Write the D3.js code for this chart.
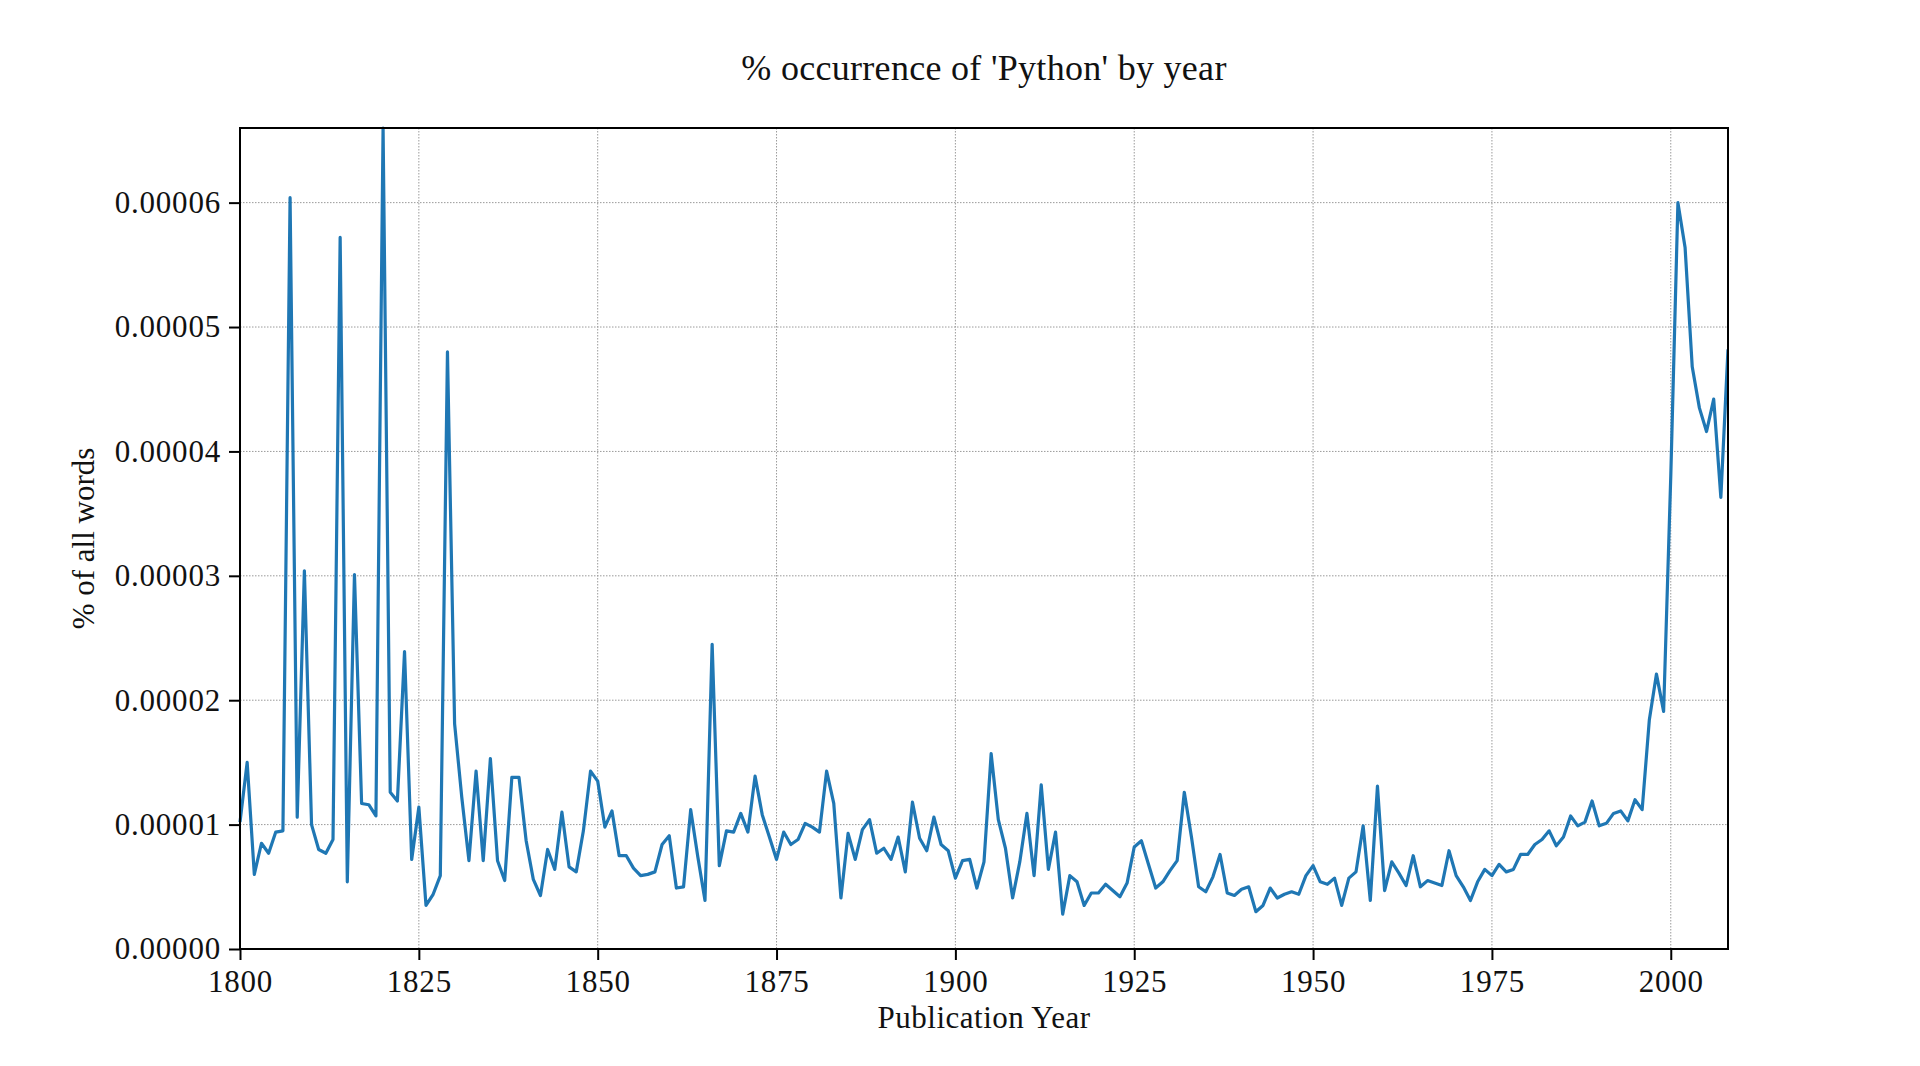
<!DOCTYPE html>
<html>
<head>
<meta charset="utf-8">
<script src="https://cdn.jsdelivr.net/npm/d3@7"></script>
<style>
  html, body { margin: 0; padding: 0; background: #fff; }
  svg { display: block; }
  text { font-family: "Liberation Serif", "DejaVu Serif", serif; fill: #111; }
</style>
</head>
<body>
<svg id="chart" width="1920" height="1066"></svg>
<script>
const title = "% occurrence of 'Python' by year";
const xLabel = "Publication Year";
const yLabel = "% of all words";
const firstYear = 1800;
const lastYear = 2008;
const xTickValues = [1800, 1825, 1850, 1875, 1900, 1925, 1950, 1975, 2000];
const yTickValues = [0, 0.00001, 0.00002, 0.00003, 0.00004, 0.00005, 0.00006];
const years = d3.range(firstYear, lastYear + 1);
const values = [
  1.02e-5, 1.50e-5, 0.60e-5, 0.85e-5, 0.77e-5, 0.94e-5, 0.95e-5, 6.04e-5, 1.06e-5, 3.04e-5,
  1.00e-5, 0.80e-5, 0.77e-5, 0.88e-5, 5.72e-5, 0.54e-5, 3.01e-5, 1.17e-5, 1.16e-5, 1.07e-5,
  6.60e-5, 1.26e-5, 1.19e-5, 2.39e-5, 0.72e-5, 1.14e-5, 0.35e-5, 0.44e-5, 0.59e-5, 4.80e-5,
  1.81e-5, 1.22e-5, 0.71e-5, 1.43e-5, 0.71e-5, 1.53e-5, 0.71e-5, 0.55e-5, 1.38e-5, 1.38e-5,
  0.87e-5, 0.56e-5, 0.43e-5, 0.80e-5, 0.64e-5, 1.10e-5, 0.66e-5, 0.62e-5, 0.95e-5, 1.43e-5,
  1.35e-5, 0.98e-5, 1.11e-5, 0.75e-5, 0.75e-5, 0.65e-5, 0.59e-5, 0.60e-5, 0.62e-5, 0.84e-5,
  0.91e-5, 0.49e-5, 0.50e-5, 1.12e-5, 0.74e-5, 0.39e-5, 2.45e-5, 0.67e-5, 0.95e-5, 0.94e-5,
  1.09e-5, 0.94e-5, 1.39e-5, 1.08e-5, 0.90e-5, 0.72e-5, 0.94e-5, 0.84e-5, 0.88e-5, 1.01e-5,
  0.98e-5, 0.94e-5, 1.43e-5, 1.17e-5, 0.41e-5, 0.93e-5, 0.72e-5, 0.96e-5, 1.04e-5, 0.77e-5,
  0.81e-5, 0.72e-5, 0.90e-5, 0.62e-5, 1.18e-5, 0.89e-5, 0.79e-5, 1.06e-5, 0.84e-5, 0.79e-5,
  0.57e-5, 0.71e-5, 0.72e-5, 0.49e-5, 0.70e-5, 1.57e-5, 1.04e-5, 0.81e-5, 0.41e-5, 0.70e-5,
  1.09e-5, 0.59e-5, 1.32e-5, 0.64e-5, 0.94e-5, 0.28e-5, 0.59e-5, 0.54e-5, 0.35e-5, 0.45e-5,
  0.45e-5, 0.52e-5, 0.47e-5, 0.42e-5, 0.53e-5, 0.82e-5, 0.87e-5, 0.68e-5, 0.49e-5, 0.54e-5,
  0.63e-5, 0.71e-5, 1.26e-5, 0.90e-5, 0.50e-5, 0.46e-5, 0.58e-5, 0.76e-5, 0.45e-5, 0.43e-5,
  0.48e-5, 0.50e-5, 0.30e-5, 0.35e-5, 0.49e-5, 0.41e-5, 0.44e-5, 0.46e-5, 0.44e-5, 0.59e-5,
  0.67e-5, 0.54e-5, 0.52e-5, 0.57e-5, 0.35e-5, 0.57e-5, 0.62e-5, 0.99e-5, 0.39e-5, 1.31e-5,
  0.47e-5, 0.70e-5, 0.61e-5, 0.51e-5, 0.75e-5, 0.50e-5, 0.55e-5, 0.53e-5, 0.51e-5, 0.79e-5,
  0.59e-5, 0.50e-5, 0.39e-5, 0.54e-5, 0.64e-5, 0.59e-5, 0.68e-5, 0.62e-5, 0.64e-5, 0.76e-5,
  0.76e-5, 0.84e-5, 0.88e-5, 0.95e-5, 0.83e-5, 0.90e-5, 1.07e-5, 0.99e-5, 1.02e-5, 1.19e-5,
  0.99e-5, 1.01e-5, 1.09e-5, 1.11e-5, 1.03e-5, 1.20e-5, 1.12e-5, 1.84e-5, 2.21e-5, 1.91e-5,
  3.80e-5, 6.00e-5, 5.64e-5, 4.68e-5, 4.35e-5, 4.16e-5, 4.42e-5, 3.63e-5, 4.82e-5
];

const W = 1920, H = 1066;
const margin = { left: 240, right: 1920 - 1728, top: 128, bottom: 1066 - 949 };
const plotW = W - margin.left - margin.right;
const plotH = H - margin.top - margin.bottom;

const data = years.map((y, i) => ({ year: y, value: values[i] }));

const svg = d3.select("#chart");
svg.append("rect").attr("width", W).attr("height", H).attr("fill", "#fff");

const g = svg.append("g").attr("transform", `translate(${margin.left},${margin.top})`);

const x = d3.scaleLinear().domain([firstYear, lastYear]).range([0, plotW]);
const y = d3.scaleLinear().domain([0, d3.max(values)]).range([plotH, 0]);

// grid
const grid = g.append("g").attr("class", "grid");
grid.selectAll("line.vx").data(xTickValues).join("line")
  .attr("x1", d => x(d)).attr("x2", d => x(d))
  .attr("y1", 0).attr("y2", plotH)
  .attr("stroke", "#9a9a9a").attr("stroke-width", 1).attr("stroke-dasharray", "1.5,1.5");
grid.selectAll("line.hy").data(yTickValues).join("line")
  .attr("x1", 0).attr("x2", plotW)
  .attr("y1", d => y(d)).attr("y2", d => y(d))
  .attr("stroke", "#9a9a9a").attr("stroke-width", 1).attr("stroke-dasharray", "1.5,1.5");

// line
const clipId = "plotclip";
svg.append("defs").append("clipPath").attr("id", clipId)
  .append("rect").attr("x", -2).attr("y", -2).attr("width", plotW + 2).attr("height", plotH + 4);
g.append("path")
  .datum(data)
  .attr("clip-path", `url(#${clipId})`)
  .attr("fill", "none")
  .attr("stroke", "#1f77b4")
  .attr("stroke-width", 3.2)
  .attr("stroke-linejoin", "round")
  .attr("d", d3.line().x(d => x(d.year)).y(d => y(d.value)));

// axes
const xAxis = d3.axisBottom(x).tickValues(xTickValues).tickFormat(d3.format("d"))
  .tickSize(11).tickPadding(10);
const yAxis = d3.axisLeft(y).tickValues(yTickValues).tickFormat(d => d.toFixed(5))
  .tickSize(11).tickPadding(8);

const gx = g.append("g").attr("transform", `translate(0,${plotH})`).call(xAxis);
const gy = g.append("g").call(yAxis);
[gx, gy].forEach(a => {
  a.select(".domain").remove();
  a.selectAll(".tick line").attr("stroke", "#000").attr("stroke-width", 2);
  a.selectAll(".tick text").attr("font-family", "Liberation Serif, DejaVu Serif, serif")
    .attr("font-size", 31).attr("letter-spacing", "0.8px").attr("fill", "#111");
});

// frame
g.append("rect").attr("x", 0).attr("y", 0).attr("width", plotW).attr("height", plotH)
  .attr("fill", "none").attr("stroke", "#000").attr("stroke-width", 2);

// title and labels
svg.append("text").attr("x", margin.left + plotW / 2).attr("y", 80)
  .attr("text-anchor", "middle").attr("font-size", 36).attr("letter-spacing", "0.3px").text(title);
svg.append("text").attr("x", margin.left + plotW / 2).attr("y", 1028)
  .attr("text-anchor", "middle").attr("font-size", 31).attr("letter-spacing", "0.5px").text(xLabel);
svg.append("text")
  .attr("transform", `translate(94,${margin.top + plotH / 2}) rotate(-90)`)
  .attr("text-anchor", "middle").attr("font-size", 31).text(yLabel);
</script>
</body>
</html>
